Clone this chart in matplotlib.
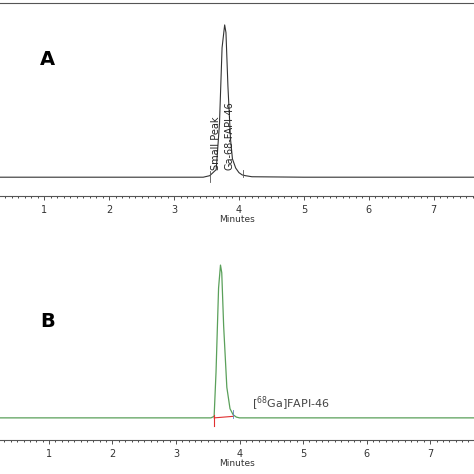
import matplotlib
matplotlib.use("Agg")
import matplotlib.pyplot as plt
from matplotlib.ticker import MultipleLocator

# Panel A trace (minutes, relative signal)
time_a = [0.3, 1.0, 2.0, 3.0, 3.45, 3.55, 3.6, 3.65, 3.7, 3.74, 3.78, 3.8, 3.83, 3.87, 3.9, 3.95, 4.0, 4.05, 4.1, 4.2, 5.0, 6.0, 7.0, 7.7]
sig_a  = [0.0, 0.0, 0.0, 0.0, 0.0, 0.01, 0.03, 0.05, 0.35, 0.85, 1.0, 0.95, 0.6, 0.25, 0.12, 0.06, 0.03, 0.015, 0.01, 0.003, 0.0, 0.0, 0.0, 0.0]
# Panel B trace
time_b = [0.2, 1.0, 2.0, 3.0, 3.55, 3.6, 3.63, 3.67, 3.7, 3.72, 3.75, 3.8, 3.85, 3.9, 3.95, 4.0, 5.0, 6.0, 7.0, 7.7]
sig_b  = [0.0, 0.0, 0.0, 0.0, 0.0, 0.01, 0.3, 0.85, 1.0, 0.95, 0.6, 0.2, 0.06, 0.02, 0.005, 0.0, 0.0, 0.0, 0.0, 0.0]
ticks_a = [1, 2, 3, 4, 5, 6, 7]
ticks_b = [1, 2, 3, 4, 5, 6, 7]

fig = plt.figure(figsize=(4.74, 4.74), dpi=100)

axA = fig.add_axes([0, 0.586, 1, 0.408])
axA.plot(time_a, sig_a, color="#333333", lw=0.8)
axA.plot([3.55, 3.55], [-0.03, 0.04], color="#555555", lw=0.6)
axA.plot([4.07, 4.07], [0.0, 0.05], color="#555555", lw=0.6)
axA.set_xlim(0.32, 7.62)
axA.set_ylim(-0.125, 1.145)
axA.set_yticks([])
for s in ["left", "right"]:
    axA.spines[s].set_visible(False)
axA.spines["top"].set_color("#555555")
axA.spines["bottom"].set_color("#555555")
axA.set_xticks(ticks_a)
axA.xaxis.set_minor_locator(MultipleLocator(0.1))
axA.tick_params(axis="x", labelsize=7, length=3, width=0.6, colors="#333333")
axA.tick_params(axis="x", which="minor", length=1.5, width=0.5)
axA.set_xlabel("Minutes", fontsize=6.5, color="#333333", labelpad=0)
axA.text(3.64, 0.05, "Small Peak", rotation=90, fontsize=7, ha="center", va="bottom", color="#222222")
axA.text(3.86, 0.05, "Ga-68-FAPI-46", rotation=90, fontsize=7, ha="center", va="bottom", color="#222222")
fig.text(0.085, 0.862, "A", fontsize=14, fontweight="bold")

axB = fig.add_axes([0, 0.072, 1, 0.401])
axB.plot(time_b, sig_b, color="#5aa05a", lw=0.9)
axB.plot([3.6, 3.9], [0.0, 0.01], color="#e03030", lw=0.8)
axB.plot([3.6, 3.6], [-0.05, 0.02], color="#e03030", lw=0.8)
axB.plot([3.9, 3.9], [0.0, 0.05], color="#6080c0", lw=0.6)
axB.set_xlim(0.23, 7.69)
axB.set_ylim(-0.144, 1.10)
axB.set_yticks([])
for s in ["left", "right", "top"]:
    axB.spines[s].set_visible(False)
axB.spines["bottom"].set_color("#555555")
axB.set_xticks(ticks_b)
axB.xaxis.set_minor_locator(MultipleLocator(0.1))
axB.tick_params(axis="x", labelsize=7, length=3, width=0.6, colors="#333333")
axB.tick_params(axis="x", which="minor", length=1.5, width=0.5)
axB.set_xlabel("Minutes", fontsize=6.5, color="#333333", labelpad=0)
axB.text(4.2, 0.03, r"[$^{68}$Ga]FAPI-46", fontsize=8, color="#444444", va="bottom")
fig.text(0.085, 0.31, "B", fontsize=14, fontweight="bold")

fig.savefig("out.png", dpi=100)
